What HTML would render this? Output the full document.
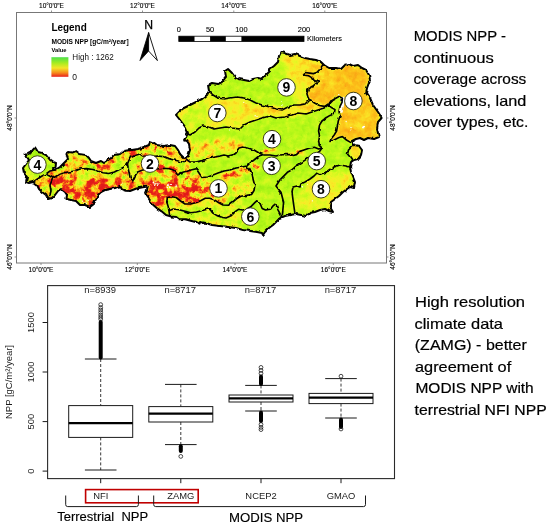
<!DOCTYPE html>
<html lang="en"><head><meta charset="utf-8"><title>MODIS NPP Austria</title>
<style>
.cal{font-size:13.2px;white-space:pre;stroke:#000;stroke-width:0.15px}
html,body{margin:0;padding:0;background:#fff}
body{width:550px;height:527px;overflow:hidden}
svg{display:block}
text{font-family:"Liberation Sans",sans-serif;fill:#000}
.big{font-size:15px;stroke:#000;stroke-width:0.2px}
.ax{font-size:9.4px;fill:#1a1a1a}
.deg{font-size:6.5px;fill:#000;stroke:#000;stroke-width:0.12px}
.num{font-size:14px;font-weight:bold;text-anchor:middle}
.bd{fill:none;stroke:#000;stroke-width:1.65;stroke-linejoin:round;stroke-linecap:round}
.bx{fill:#fff;stroke:#1a1a1a;stroke-width:1}
.ln{fill:none;stroke:#1a1a1a;stroke-width:1}
.ds{fill:none;stroke:#222;stroke-width:0.9;stroke-dasharray:3 2}
.md{stroke:#000;stroke-width:2.2}
.oc{fill:none;stroke:#111;stroke-width:0.75}
</style></head><body>
<svg width="550" height="527" viewBox="0 0 550 527">
<defs>
<clipPath id="at"><polygon points="35,147.4 38,152 42,153 46,155 50,160 53,162 56,163 55.6,167 53,169 55,170 60,167 65,162 68,159 66.4,154 69,152 72.4,152.6 76,151 80,154 86,155 89,158 91,161 96,163 101,161 104,163 107,161 111,158 114,155 120,154 124,151 130,150 132,150 138,149 144,147 149,145 150,141 153,142 157,145 163,146 170,145 175,146 178,150 180,154 184,158 188,156 190,150 189,144 187,141 184,140 186,137 188,133 186,128 183,124 180,120 176,115 180,111 184,108 190,105 196,102 202,99 207,95 209,91 208,85 212,83 218,84 222,82 226,77 225,71 228,69 232,73 235,77 239,79 244,80 249,81 253,79 258,78 262,79 266,75 270,71 270,69 274,66 278,62 279,56 281,52 285,53 290,55 295,54 300,56 305,58 310,59 316,60 321,62 324,65 329,68 336,68 341,69 345,65 349,64 353,66 358,65 362,68 366,70 369,75 370,80 368.5,84 367,88 366,93 368,96 370,98 371.5,101.5 373,105 375.5,108.5 378,112 380,115 381.6,118 378,122 377,129 378,133 379,137 374,139 368,138 364,140 360,138 356,139 352,141 354,145 359,146 362,150 361,155 358,159 354,160 351,162 350,167 351,172 353,177 355,182 354,188 350,187 347,189 343,192 339,196 335,199 331,202 330,207 333,212 329,211 325,209 320,210 315,212 310,213 306,216 301,215 296,214 290,215 285,216 280,218 277,221 273,225 269,228 265,232 263,235 262,233 257,232 250,231 243,230 236,228 228,227 220,226 212,225 206,223 200,222 199.5,223.6 196.5,222.2 190.7,220.7 185,219.3 179,219.3 176.2,217 170.4,216.4 166,215 161.6,211.3 157.3,208.4 153,204.7 150,200.4 147.8,197.4 145.3,193.5 146.5,191 147.8,186.5 142.7,187.2 136.4,188.5 130,191 125.8,190.7 122,189.5 120,186 115,188 110,189 105,190 101,192 98,195 96,199 94,204 90,207 85,205 80,205 76,201 71,200 66.4,199 67,195 65,192 61,189 58,191 55,195 52,198 48,199 46,195 42,192 39,189 37,185 33,182 29,183 26,182 27,177 24,173 23,168 26,164 29,160 27,157 25.6,154 28,153 32,151"/></clipPath>
<filter id="npp" filterUnits="userSpaceOnUse" x="15" y="40" width="380" height="200" color-interpolation-filters="sRGB">
<feGaussianBlur in="SourceGraphic" stdDeviation="1.5" result="b"/>
<feColorMatrix in="b" type="matrix" values="1 0 0 0 0 1 0 0 0 0 1 0 0 0 0 0 0 0 0 1" result="F"/>
<feColorMatrix in="b" type="matrix" values="0 1 0 0 0 0 1 0 0 0 0 1 0 0 0 0 0 0 0 1" result="M"/>
<feTurbulence type="fractalNoise" baseFrequency="0.4" numOctaves="2" seed="3" result="t1"/>
<feColorMatrix in="t1" type="matrix" values="1 0 0 0 0 1 0 0 0 0 1 0 0 0 0 0 0 0 0 1" result="N1"/>
<feTurbulence type="fractalNoise" baseFrequency="0.14" numOctaves="2" seed="11" result="t2"/>
<feColorMatrix in="t2" type="matrix" values="1 0 0 0 0 1 0 0 0 0 1 0 0 0 0 0 0 0 0 1" result="N2"/>
<feComposite in="N2" in2="N1" operator="arithmetic" k1="0" k2="1" k3="0.35" k4="-0.175" result="N"/>
<feComposite in="M" in2="N" operator="arithmetic" k1="1.7" k2="-0.85" k3="0" k4="0.5" result="A"/>
<feComposite in="F" in2="A" operator="arithmetic" k1="0" k2="1" k3="1" k4="-0.5" result="v"/>
<feComponentTransfer in="v"><feFuncR type="table" tableValues="0.627 0.650 0.672 0.695 0.717 0.741 0.764 0.788 0.815 0.848 0.881 0.913 0.941 0.968 0.982 0.986 0.989 0.992 0.988 0.984 0.979 0.972 0.965 0.957 0.947 0.938 0.928 0.920 0.914 0.907 0.900 0.893 0.886"/><feFuncG type="table" tableValues="0.941 0.949 0.958 0.966 0.973 0.975 0.977 0.979 0.979 0.974 0.969 0.963 0.948 0.932 0.901 0.856 0.811 0.767 0.726 0.685 0.638 0.557 0.476 0.395 0.327 0.260 0.193 0.167 0.154 0.141 0.128 0.115 0.102"/><feFuncB type="table" tableValues="0.078 0.083 0.087 0.091 0.095 0.101 0.107 0.113 0.120 0.127 0.135 0.142 0.148 0.154 0.148 0.133 0.117 0.102 0.096 0.091 0.086 0.086 0.086 0.086 0.090 0.093 0.097 0.099 0.099 0.100 0.101 0.101 0.102"/></feComponentTransfer>
</filter>
<filter id="wig" filterUnits="userSpaceOnUse" x="15" y="40" width="380" height="200" color-interpolation-filters="sRGB"><feTurbulence type="fractalNoise" baseFrequency="0.18" numOctaves="2" seed="4" result="w"/><feDisplacementMap in="SourceGraphic" in2="w" scale="3" xChannelSelector="R" yChannelSelector="G"/></filter>
<filter id="soft" x="-50%" y="-50%" width="200%" height="200%" color-interpolation-filters="sRGB"><feGaussianBlur stdDeviation="3.5"/></filter>
<linearGradient id="lg" x1="0" y1="0" x2="0" y2="1">
<stop offset="0" stop-color="#4be04b"/><stop offset="0.3" stop-color="#a8ec20"/><stop offset="0.55" stop-color="#f4e628"/><stop offset="0.8" stop-color="#f68a1c"/><stop offset="1" stop-color="#e8201c"/>
</linearGradient>
</defs>
<rect width="550" height="527" fill="#fff"/>

<!-- map frame -->
<rect x="16.5" y="12.5" width="370" height="250.5" fill="#fff" stroke="#777" stroke-width="1"/>
<g filter="url(#wig)"><g clip-path="url(#at)"><g filter="url(#npp)">
<rect x="10" y="35" width="390" height="210" fill="rgb(36,64,0)"/>
<polygon points="324,65 329,68 336,68 341,69 345,65 349,64 353,66 358,65 362,68 366,70 369,75 370,80 368.5,84 367,88 366,93 368,96 370,98 371.5,101.5 373,105 375.5,108.5 378,112 380,115 381.6,118 378,122 377,129 378,133 379,137 374,139 368,138 364,140 360,138 356,139 352,141 350.5,142.4 346.5,140 342.4,136.6 339,137.5 334.2,140 330,141.5 331,139 334.2,135 336.6,131 337.5,126 338.3,121 340,116.2 339,111.3 340,106.4 342,102.3 342.4,98.2 339,96.5 335.8,98.2 331.7,100.6 328.5,103.9 324.4,106.4 319.5,105.5 314.5,103 310.5,99.8 308,100 309.6,100.3 308,97.1 306.9,93.8 308,90 310.7,87.3 313.4,85.6 316.2,83.4 318.4,81.8 317.8,80.2 315.1,81.3 312.9,80.2 311.3,77.4 308.5,75.8 304.7,75.3 303.6,73.6 305.3,72.5 309.6,73.1 313.4,73.6 316.7,72.5 318.9,70.4 321,67.6 322.7,64.9 324,65" fill="rgb(139,36,0)"/>
<g filter="url(#soft)"><ellipse cx="360" cy="118" rx="12" ry="16" fill="rgb(125,36,0)" transform="rotate(-15 360 118)"/></g>
<g filter="url(#soft)"><ellipse cx="335" cy="85" rx="8" ry="6" fill="rgb(128,36,0)"/></g>
<ellipse cx="356" cy="152" rx="6" ry="7" fill="rgb(120,31,0)"/>
<polygon points="209,91 213,95 218,98 224,99 230,98 237,97 244,98 250,100 256,103 262,105 270,107 276,109 282,110 288,107 294,105 300,105 305,104 308,101 308,101 310.5,99.8 314.5,103 319.5,105.5 324.4,106.4 327.6,104.7 330,101 328,105 324,108 318,110 312,112 306,114 298,113 292,115 284,117 276,118 270,116 262,118 256,120 250,122 244,125 240,129 232,128 226,127 220,128 214,129 209,127 203,126 199,128 195,132 190,135 188,134 185,128 182,123 178,119 176,115 180,111 184,108 190,105 196,102 202,99 207,95" fill="rgb(94,56,0)"/>
<ellipse cx="270" cy="110" rx="34" ry="5" fill="rgb(107,64,0)" transform="rotate(8 270 110)"/>
<ellipse cx="310" cy="106" rx="14" ry="4" fill="rgb(128,64,0)"/>
<ellipse cx="250" cy="112" rx="26" ry="8" fill="rgb(107,64,0)" transform="rotate(-5 250 112)"/>
<ellipse cx="195" cy="118" rx="14" ry="10" fill="rgb(61,76,0)" transform="rotate(-30 195 118)"/>
<g filter="url(#soft)"><ellipse cx="201" cy="112" rx="13" ry="9" fill="rgb(69,64,0)" transform="rotate(-20 201 112)"/></g>
<g filter="url(#soft)"><ellipse cx="306" cy="72" rx="20" ry="17" fill="rgb(115,51,0)"/></g>
<g filter="url(#soft)"><ellipse cx="314" cy="68" rx="10" ry="10" fill="rgb(120,51,0)"/></g>
<g filter="url(#soft)"><ellipse cx="292" cy="59" rx="16" ry="7" fill="rgb(115,51,0)" transform="rotate(10 292 59)"/></g>
<g filter="url(#soft)"><ellipse cx="301" cy="95" rx="7" ry="9" fill="rgb(117,64,0)"/></g>
<g filter="url(#soft)"><ellipse cx="328" cy="193" rx="26" ry="20" fill="rgb(97,64,0)"/></g>
<g filter="url(#soft)"><ellipse cx="300" cy="205" rx="14" ry="12" fill="rgb(76,64,0)"/></g>
<g filter="url(#soft)"><ellipse cx="347" cy="185" rx="10" ry="14" fill="rgb(97,64,0)"/></g>
<polygon points="20,140 190,140 190,170 228,186 226,200 205,212 185,214 20,214" fill="rgb(128,255,0)"/>
<ellipse cx="100" cy="190" rx="26" ry="11" fill="rgb(204,255,0)" transform="rotate(5 100 190)"/>
<ellipse cx="172" cy="192" rx="34" ry="9" fill="rgb(204,255,0)" transform="rotate(8 172 192)"/>
<ellipse cx="66" cy="186" rx="18" ry="8" fill="rgb(184,255,0)" transform="rotate(25 66 186)"/>
<ellipse cx="203" cy="197" rx="16" ry="6" fill="rgb(168,255,0)" transform="rotate(15 203 197)"/>
<ellipse cx="48" cy="180" rx="10" ry="7" fill="rgb(148,255,0)" transform="rotate(30 48 180)"/>
<ellipse cx="85" cy="163" rx="30" ry="6" fill="rgb(112,255,0)" transform="rotate(-10 85 163)"/>
<ellipse cx="135" cy="156" rx="28" ry="5" fill="rgb(102,255,0)" transform="rotate(-4 135 156)"/>
<ellipse cx="170" cy="160" rx="20" ry="5" fill="rgb(92,64,0)" transform="rotate(10 170 160)"/>
<ellipse cx="122" cy="165.5" rx="19" ry="3.2" fill="rgb(51,102,0)" transform="rotate(-25 122 165.5)"/>
<ellipse cx="133" cy="171" rx="4.5" ry="9" fill="rgb(51,102,0)"/>
<ellipse cx="163" cy="162.5" rx="24" ry="3" fill="rgb(61,128,0)" transform="rotate(4 163 162.5)"/>
<ellipse cx="90" cy="172" rx="14" ry="2" fill="rgb(76,128,0)" transform="rotate(8 90 172)"/>
<ellipse cx="82" cy="181" rx="10" ry="4.5" fill="rgb(66,128,0)" transform="rotate(-35 82 181)"/>
<ellipse cx="79" cy="155.5" rx="10" ry="3.5" fill="rgb(87,128,0)" transform="rotate(5 79 155.5)"/>
<ellipse cx="58" cy="166" rx="4" ry="3" fill="rgb(76,102,0)"/>
<ellipse cx="112" cy="180" rx="3" ry="8" fill="rgb(71,128,0)" transform="rotate(20 112 180)"/>
<polygon points="20,140 40,140 50,158 58,164 55,170 50,171 44,175 38,179 33,182 20,190" fill="rgb(51,115,0)"/>
<ellipse cx="36" cy="158" rx="12" ry="11" fill="rgb(26,76,0)"/>
<ellipse cx="32" cy="177" rx="6" ry="4" fill="rgb(87,128,0)"/>
<ellipse cx="232" cy="145" rx="10" ry="3" fill="rgb(158,255,0)" transform="rotate(-10 232 145)"/>
<ellipse cx="205" cy="155" rx="14" ry="3" fill="rgb(148,255,0)" transform="rotate(5 205 155)"/>
<ellipse cx="240" cy="172" rx="22" ry="4" fill="rgb(140,255,0)" transform="rotate(-18 240 172)"/>
<ellipse cx="296" cy="153" rx="8" ry="2.5" fill="rgb(128,255,0)" transform="rotate(-20 296 153)"/>
<ellipse cx="268" cy="150" rx="10" ry="2.5" fill="rgb(115,255,0)" transform="rotate(-10 268 150)"/>
<ellipse cx="215" cy="147" rx="30" ry="8" fill="rgb(102,153,0)" transform="rotate(-5 215 147)"/>
<ellipse cx="232" cy="188" rx="22" ry="11" fill="rgb(87,153,0)"/>
<polygon points="167.5,197.5 171.8,196.7 176.2,197.5 180.5,201 185,204 190.7,204 196.5,202.5 201,200.4 205.3,198.2 209.6,198.2 214,199.6 218.4,202.5 223,205 228.6,205.2 232.7,202 240,200 250,215 240,232 200,226 176,220 160,212" fill="rgb(76,115,0)"/>
<ellipse cx="178" cy="204" rx="10" ry="3" fill="rgb(107,153,0)" transform="rotate(20 178 204)"/>
<ellipse cx="205" cy="216" rx="30" ry="3" fill="rgb(51,102,0)" transform="rotate(6 205 216)"/>
</g></g>
<polygon points="341,97.5 344.6,96.5 344.2,104 342.6,111.5 340.4,112 340.8,104" fill="#fff"/><ellipse cx="153.4" cy="182.5" rx="0.81" ry="0.88" fill="#fff"/><ellipse cx="155.7" cy="181.1" rx="0.43" ry="0.65" fill="#fff"/><ellipse cx="159.0" cy="183.3" rx="0.86" ry="0.48" fill="#fff"/><ellipse cx="154.4" cy="184.2" rx="0.69" ry="0.7" fill="#fff"/><ellipse cx="157.5" cy="184.1" rx="0.56" ry="0.87" fill="#fff"/><ellipse cx="156.1" cy="183.2" rx="0.81" ry="0.49" fill="#fff"/><ellipse cx="155.2" cy="183.5" rx="0.42" ry="0.85" fill="#fff"/><ellipse cx="168.9" cy="185.3" rx="0.9" ry="0.85" fill="#fff"/><ellipse cx="167.3" cy="187.5" rx="0.68" ry="0.75" fill="#fff"/><ellipse cx="169.8" cy="187.2" rx="0.76" ry="0.89" fill="#fff"/><ellipse cx="169.8" cy="183.9" rx="0.6" ry="0.5" fill="#fff"/><ellipse cx="168.9" cy="184.8" rx="0.57" ry="0.72" fill="#fff"/><ellipse cx="171.5" cy="184.5" rx="0.59" ry="0.57" fill="#fff"/><ellipse cx="176.7" cy="186.0" rx="0.57" ry="0.66" fill="#fff"/><ellipse cx="175.9" cy="186.7" rx="0.9" ry="0.43" fill="#fff"/><ellipse cx="176.0" cy="185.1" rx="0.43" ry="0.81" fill="#fff"/><ellipse cx="83.7" cy="202.3" rx="0.42" ry="0.44" fill="#fff"/><ellipse cx="86.6" cy="203.3" rx="0.52" ry="0.79" fill="#fff"/><ellipse cx="88.2" cy="200.7" rx="0.59" ry="0.59" fill="#fff"/><ellipse cx="82.4" cy="201.3" rx="0.47" ry="0.79" fill="#fff"/><ellipse cx="122.6" cy="182.9" rx="0.31" ry="0.63" fill="#fff"/><ellipse cx="122.8" cy="184.3" rx="0.51" ry="0.62" fill="#fff"/><ellipse cx="281.8" cy="105.5" rx="0.69" ry="0.57" fill="#fff"/><ellipse cx="282.7" cy="104.5" rx="0.46" ry="0.49" fill="#fff"/><ellipse cx="281.7" cy="101.5" rx="0.5" ry="0.44" fill="#fff"/><ellipse cx="246.0" cy="102.9" rx="0.53" ry="0.46" fill="#fff"/><ellipse cx="243.8" cy="102.4" rx="0.55" ry="0.54" fill="#fff"/><ellipse cx="256.7" cy="116.5" rx="0.37" ry="0.57" fill="#fff"/><ellipse cx="255.2" cy="115.7" rx="0.67" ry="0.76" fill="#fff"/><ellipse cx="222.4" cy="126.1" rx="0.34" ry="0.45" fill="#fff"/><ellipse cx="229.4" cy="130.3" rx="0.4" ry="0.46" fill="#fff"/><ellipse cx="231.9" cy="128.0" rx="0.64" ry="0.46" fill="#fff"/><ellipse cx="363.4" cy="127.2" rx="0.65" ry="0.56" fill="#fff"/><ellipse cx="363.8" cy="127.5" rx="0.6" ry="0.9" fill="#fff"/><ellipse cx="364.5" cy="126.4" rx="0.66" ry="0.59" fill="#fff"/><ellipse cx="346.2" cy="121.4" rx="0.57" ry="0.6" fill="#fff"/><ellipse cx="345.7" cy="122.3" rx="0.57" ry="0.54" fill="#fff"/><ellipse cx="350.7" cy="127.6" rx="0.43" ry="0.55" fill="#fff"/><ellipse cx="350.9" cy="130.1" rx="0.57" ry="0.54" fill="#fff"/><ellipse cx="338.8" cy="94.7" rx="0.74" ry="0.7" fill="#fff"/><ellipse cx="307.5" cy="185.1" rx="0.54" ry="0.75" fill="#fff"/><ellipse cx="301.4" cy="185.6" rx="0.74" ry="0.81" fill="#fff"/><ellipse cx="303.3" cy="186.8" rx="0.78" ry="0.83" fill="#fff"/><ellipse cx="312.4" cy="200.8" rx="0.73" ry="0.65" fill="#fff"/><ellipse cx="322.5" cy="107.8" rx="0.58" ry="0.58" fill="#fff"/><ellipse cx="321.0" cy="108.8" rx="0.75" ry="0.56" fill="#fff"/>
<polygon class="bd" style="stroke-width:2" points="35,147.4 38,152 42,153 46,155 50,160 53,162 56,163 55.6,167 53,169 55,170 60,167 65,162 68,159 66.4,154 69,152 72.4,152.6 76,151 80,154 86,155 89,158 91,161 96,163 101,161 104,163 107,161 111,158 114,155 120,154 124,151 130,150 132,150 138,149 144,147 149,145 150,141 153,142 157,145 163,146 170,145 175,146 178,150 180,154 184,158 188,156 190,150 189,144 187,141 184,140 186,137 188,133 186,128 183,124 180,120 176,115 180,111 184,108 190,105 196,102 202,99 207,95 209,91 208,85 212,83 218,84 222,82 226,77 225,71 228,69 232,73 235,77 239,79 244,80 249,81 253,79 258,78 262,79 266,75 270,71 270,69 274,66 278,62 279,56 281,52 285,53 290,55 295,54 300,56 305,58 310,59 316,60 321,62 324,65 329,68 336,68 341,69 345,65 349,64 353,66 358,65 362,68 366,70 369,75 370,80 368.5,84 367,88 366,93 368,96 370,98 371.5,101.5 373,105 375.5,108.5 378,112 380,115 381.6,118 378,122 377,129 378,133 379,137 374,139 368,138 364,140 360,138 356,139 352,141 354,145 359,146 362,150 361,155 358,159 354,160 351,162 350,167 351,172 353,177 355,182 354,188 350,187 347,189 343,192 339,196 335,199 331,202 330,207 333,212 329,211 325,209 320,210 315,212 310,213 306,216 301,215 296,214 290,215 285,216 280,218 277,221 273,225 269,228 265,232 263,235 262,233 257,232 250,231 243,230 236,228 228,227 220,226 212,225 206,223 200,222 199.5,223.6 196.5,222.2 190.7,220.7 185,219.3 179,219.3 176.2,217 170.4,216.4 166,215 161.6,211.3 157.3,208.4 153,204.7 150,200.4 147.8,197.4 145.3,193.5 146.5,191 147.8,186.5 142.7,187.2 136.4,188.5 130,191 125.8,190.7 122,189.5 120,186 115,188 110,189 105,190 101,192 98,195 96,199 94,204 90,207 85,205 80,205 76,201 71,200 66.4,199 67,195 65,192 61,189 58,191 55,195 52,198 48,199 46,195 42,192 39,189 37,185 33,182 29,183 26,182 27,177 24,173 23,168 26,164 29,160 27,157 25.6,154 28,153 32,151"/>
<polyline class="bd" points="55,170 50,171 46,174 42,176 39,178 36,180 33,182"/>
<polyline class="bd" points="53,178 50,185 51,191 50,195 48,199"/>
<polyline class="bd" points="46,174 53,178 60,174 68,172 75,171 80,169 86.5,168.6 93,169.5 98,171 103,172.7 108.6,173.5 114.4,172 119.3,169.5 124.2,167 127.5,163.7 130,158 135,155.4 140,154 142.7,156 150,156.5 158,156 163,156.6 168,158.5 173,159.8 178.4,161 183.5,162.4 186,159.5"/>
<polyline class="bd" points="209,91 213,95 218,98 224,99 230,98 237,97 244,98 250,100 256,103 262,105 270,107 276,109 282,110 288,107 294,105 300,105 305,104 308,101"/>
<polyline class="bd" points="188,134 190,135 195,132 199,128 203,126 209,127 214,129 220,128 226,127 232,128 240,129 244,125 250,122 256,120 262,118 270,116 276,118 284,117 292,115 298,113 306,114 312,112 318,110 324,108 328,105 330,101"/>
<polyline class="bd" points="186,159 190,162 196,162 202,160.6 208,159 214,157 220,156 224,155 228,156 232,155 236,152 239,148 243,147 248,148 254,150 259,153 264,155 270,155 276,156 280,155 285,154.5 290,154.6 293.3,155.5 296.5,154.6 299.8,151.4 304.7,149.7 309.6,148 314.5,147.3 318.6,149 322,148"/>
<polyline class="bd" points="324,65 322.7,64.9 321,67.6 318.9,70.4 316.7,72.5 313.4,73.6 309.6,73.1 305.3,72.5 303.6,73.6 304.7,75.3 308.5,75.8 311.3,77.4 312.9,80.2 315.1,81.3 317.8,80.2 318.4,81.8 316.2,83.4 313.4,85.6 310.7,87.3 308,90 306.9,93.8 308,97.1 309.6,100.3"/>
<polyline class="bd" points="308,100 310.5,99.8 314.5,103 319.5,105.5 324.4,106.4 328.5,103.9 331.7,100.6 335.8,98.2 339,96.5 342.4,98.2 342,102.3 340,106.4 339,111.3 340,116.2 338.3,121 337.5,126 336.6,131 334.2,135 331,139 330,141.5 334.2,140 339,137.5 342.4,136.6 346.5,140 350.5,142.4"/>
<polyline class="bd" points="327.6,104.7 331,107.2 335,109.6 334.2,113.7 330,115.4 326,117.8 322,121 319.5,125.2 318.6,131 319.5,135.8 318.6,140.7 319.5,145.6 322,148"/>
<polyline class="bd" points="350,167 346,166 340,165 334,167 329,170 325,173 321,175 317,173 314,176 310,179 305,182 301,184 300,187 297,186 293,187 292,192 293,200 294,207 295,214"/>
<polyline class="bd" points="247,166 250,170 252.4,175 253.2,179.8 254.8,185.5 254,190.5 251.5,194.5 246.6,195.4 241,196.2 236.8,198.6 232.7,202 228.6,205.2 223,205 218.4,202.5 214,199.6 209.6,198.2 205.3,198.2 201,200.4 196.5,202.5 190.7,204 185,204 180.5,201 176.2,197.5 171.8,196.7 167.5,197.5 166.7,202 168.2,206.5 169,211 169.6,215.5"/>
<polyline class="bd" points="127.5,164 128.5,170 130,177 132.4,181.7 135,176 137.6,172 142.7,170 148,169.4 159.3,168.7 164.4,168.3 169.5,168.7 173.3,170 175.8,172.5 177.7,175 180.3,173.2 183.5,172 187.3,171.3 191,170 196.2,168.7 199,173 202,177.5 208,177 213,175 218,173 224,171 230,170 236,168 242,167 247,166 250,163 254,160 259,156 262,155"/>
<polyline class="bd" points="169.6,210.5 173.3,209 179,209.8 185,211.3 190.7,212.7 196.5,212 202.4,210.5 208.2,209 210.4,209.8 212.5,212.7 217,215.6 222.7,217.5 226,218 231,215.8 235.2,211.7 238.5,209.3 242.5,210 246.6,209.3 250.7,206.8 254.8,202.7 257.3,200.3 259.7,202.7 262.2,208.5 265.5,210 270.4,209.3 273.6,205.2 276,204.4 277.7,209.3 280.2,214.2 281.8,217.5"/>
<polyline class="bd" points="322,148 319.5,151.4 314.5,154.6 309.6,157 304.7,160.4 299.8,163.6 295,167 291.6,170 287.4,172.3 280,179.8 276,186 281,192.2 283.6,202.2 282.4,214.6"/>
<polyline class="bd" points="353,145.6 348.5,150 347.5,154 350,157 352.2,160.4"/>
</g>
<circle cx="37.4" cy="164.6" r="8.8" fill="#fff" stroke="#2a2a10" stroke-width="0.9"/><text class="num" x="37.4" y="169.6">4</text>
<circle cx="150" cy="163.6" r="8.8" fill="#fff" stroke="#2a2a10" stroke-width="0.9"/><text class="num" x="150" y="168.6">2</text>
<circle cx="217.3" cy="113" r="8.8" fill="#fff" stroke="#2a2a10" stroke-width="0.9"/><text class="num" x="217.3" y="118">7</text>
<circle cx="286.5" cy="87.4" r="8.8" fill="#fff" stroke="#2a2a10" stroke-width="0.9"/><text class="num" x="286.5" y="92.4">9</text>
<circle cx="272" cy="139.2" r="8.8" fill="#fff" stroke="#2a2a10" stroke-width="0.9"/><text class="num" x="272" y="144.2">4</text>
<circle cx="271.6" cy="165.8" r="8.8" fill="#fff" stroke="#2a2a10" stroke-width="0.9"/><text class="num" x="271.6" y="170.8">3</text>
<circle cx="218.5" cy="188.4" r="8.8" fill="#fff" stroke="#2a2a10" stroke-width="0.9"/><text class="num" x="218.5" y="193.4">1</text>
<circle cx="250.3" cy="216.6" r="8.8" fill="#fff" stroke="#2a2a10" stroke-width="0.9"/><text class="num" x="250.3" y="221.6">6</text>
<circle cx="316.7" cy="161.1" r="8.8" fill="#fff" stroke="#2a2a10" stroke-width="0.9"/><text class="num" x="316.7" y="166.1">5</text>
<circle cx="321" cy="189.2" r="8.8" fill="#fff" stroke="#2a2a10" stroke-width="0.9"/><text class="num" x="321" y="194.2">8</text>
<circle cx="353.4" cy="101" r="8.8" fill="#fff" stroke="#2a2a10" stroke-width="0.9"/><text class="num" x="353.4" y="106">8</text>
<line x1="51.5" y1="10.5" x2="51.5" y2="12.5" stroke="#777" stroke-width="0.8"/><text class="deg" x="51.5" y="8.3" text-anchor="middle">10°0'0"E</text>
<line x1="142.5" y1="10.5" x2="142.5" y2="12.5" stroke="#777" stroke-width="0.8"/><text class="deg" x="142.5" y="8.3" text-anchor="middle">12°0'0"E</text>
<line x1="233.8" y1="10.5" x2="233.8" y2="12.5" stroke="#777" stroke-width="0.8"/><text class="deg" x="233.8" y="8.3" text-anchor="middle">14°0'0"E</text>
<line x1="324.8" y1="10.5" x2="324.8" y2="12.5" stroke="#777" stroke-width="0.8"/><text class="deg" x="324.8" y="8.3" text-anchor="middle">16°0'0"E</text>
<line x1="41" y1="263" x2="41" y2="265" stroke="#777" stroke-width="0.8"/><text class="deg" x="41" y="271.8" text-anchor="middle">10°0'0"E</text>
<line x1="137.3" y1="263" x2="137.3" y2="265" stroke="#777" stroke-width="0.8"/><text class="deg" x="137.3" y="271.8" text-anchor="middle">12°0'0"E</text>
<line x1="235" y1="263" x2="235" y2="265" stroke="#777" stroke-width="0.8"/><text class="deg" x="235" y="271.8" text-anchor="middle">14°0'0"E</text>
<line x1="333.3" y1="263" x2="333.3" y2="265" stroke="#777" stroke-width="0.8"/><text class="deg" x="333.3" y="271.8" text-anchor="middle">16°0'0"E</text>
<line x1="14.5" y1="118" x2="16.5" y2="118" stroke="#777" stroke-width="0.8"/><text class="deg" transform="translate(12.4 118) rotate(-90)" text-anchor="middle">48°0'0"N</text>
<line x1="386.5" y1="118" x2="388.5" y2="118" stroke="#777" stroke-width="0.8"/><text class="deg" transform="translate(394.8 118) rotate(-90)" text-anchor="middle">48°0'0"N</text>
<line x1="14.5" y1="257" x2="16.5" y2="257" stroke="#777" stroke-width="0.8"/><text class="deg" transform="translate(12.4 257) rotate(-90)" text-anchor="middle">46°0'0"N</text>
<line x1="386.5" y1="257" x2="388.5" y2="257" stroke="#777" stroke-width="0.8"/><text class="deg" transform="translate(394.8 257) rotate(-90)" text-anchor="middle">46°0'0"N</text>
<text x="51.4" y="30.5" style="font-size:10px;font-weight:bold" textLength="35.4" lengthAdjust="spacingAndGlyphs">Legend</text>
<text x="51.4" y="43.7" style="font-size:6.5px;font-weight:bold" textLength="77.2" lengthAdjust="spacingAndGlyphs">MODIS NPP [gC/m²/year]</text>
<text x="51.4" y="52.3" style="font-size:5.7px;font-weight:bold" textLength="15.1" lengthAdjust="spacingAndGlyphs">Value</text>
<rect x="51.4" y="57.2" width="17" height="19.6" fill="url(#lg)"/>
<text x="72.3" y="59.9" style="font-size:8.5px;fill:#111" textLength="41.4" lengthAdjust="spacingAndGlyphs">High : 1262</text>
<text x="72.3" y="79.5" style="font-size:8.5px;fill:#111">0</text>
<text x="148.7" y="28.7" text-anchor="middle" style="font-size:12.2px;stroke:#000;stroke-width:0.25">N</text>
<polygon points="148.6,32.6 140,60.6 148.6,51" fill="#000" stroke="#000" stroke-width="0.8" stroke-linejoin="miter"/>
<polygon points="148.6,32.6 157.4,60.6 148.6,51" fill="#fff" stroke="#000" stroke-width="0.9" stroke-linejoin="miter"/>
<rect x="178.8" y="36.2" width="125.2" height="5.2" fill="#fff" stroke="#000" stroke-width="0.8"/>
<rect x="178.8" y="36.2" width="15.7" height="5.2" fill="#000"/><rect x="210.1" y="36.2" width="15.7" height="5.2" fill="#000"/><rect x="241.4" y="36.2" width="62.6" height="5.2" fill="#000"/>
<text x="178.8" y="31.6" text-anchor="middle" style="font-size:7.4px;stroke:#000;stroke-width:0.1px">0</text><text x="210.1" y="31.6" text-anchor="middle" style="font-size:7.4px;stroke:#000;stroke-width:0.1px">50</text><text x="241.4" y="31.6" text-anchor="middle" style="font-size:7.4px;stroke:#000;stroke-width:0.1px">100</text><text x="304" y="31.6" text-anchor="middle" style="font-size:7.4px;stroke:#000;stroke-width:0.1px">200</text>
<text x="307" y="41.4" style="font-size:7.4px;stroke:#000;stroke-width:0.1px">Kilometers</text>
<text class="big" x="413.7" y="41.1" textLength="92.3" lengthAdjust="spacingAndGlyphs">MODIS NPP -</text>
<text class="big" x="413.4" y="62.7" textLength="80.4" lengthAdjust="spacingAndGlyphs">continuous</text>
<text class="big" x="413.4" y="84.2" textLength="112.9" lengthAdjust="spacingAndGlyphs">coverage across</text>
<text class="big" x="413.4" y="105.7" textLength="112.9" lengthAdjust="spacingAndGlyphs">elevations, land</text>
<text class="big" x="413.4" y="127.2" textLength="115.0" lengthAdjust="spacingAndGlyphs">cover types, etc.</text>
<text class="big" x="415" y="307.4" textLength="110.0" lengthAdjust="spacingAndGlyphs">High resolution</text>
<text class="big" x="414.5" y="328.9" textLength="88.5" lengthAdjust="spacingAndGlyphs">climate data</text>
<text class="big" x="414.8" y="350.4" textLength="112.0" lengthAdjust="spacingAndGlyphs">(ZAMG) - better</text>
<text class="big" x="415" y="371.9" textLength="96.2" lengthAdjust="spacingAndGlyphs">agreement of</text>
<text class="big" x="415.5" y="393.4" textLength="118.2" lengthAdjust="spacingAndGlyphs">MODIS NPP with</text>
<text class="big" x="414.5" y="414.9" textLength="132.3" lengthAdjust="spacingAndGlyphs">terrestrial NFI NPP</text>
<rect x="47.6" y="285.6" width="346.9" height="193" fill="none" stroke="#2a2a2a" stroke-width="1.1"/>
<line class="ln" x1="42.6" y1="471.1" x2="47.6" y2="471.1"/><text class="ax" transform="translate(34.1 471.1) rotate(-90)" text-anchor="middle">0</text>
<line class="ln" x1="42.6" y1="421.6" x2="47.6" y2="421.6"/><text class="ax" transform="translate(34.1 421.6) rotate(-90)" text-anchor="middle">500</text>
<line class="ln" x1="42.6" y1="372.0" x2="47.6" y2="372.0"/><text class="ax" transform="translate(34.1 372.0) rotate(-90)" text-anchor="middle">1000</text>
<line class="ln" x1="42.6" y1="322.5" x2="47.6" y2="322.5"/><text class="ax" transform="translate(34.1 322.5) rotate(-90)" text-anchor="middle">1500</text>
<text class="ax" transform="translate(12.3 382) rotate(-90)" text-anchor="middle" textLength="74" lengthAdjust="spacingAndGlyphs">NPP [gC/m²/year]</text>
<text class="ax" x="100.10000000000001" y="293.3" text-anchor="middle" >n=8939</text>
<line class="ds" x1="100.7" y1="359" x2="100.7" y2="405.6"/><line class="ds" x1="100.7" y1="437.4" x2="100.7" y2="470"/><line class="ln" x1="84.9" y1="359" x2="116.5" y2="359"/><line class="ln" x1="84.9" y1="470" x2="116.5" y2="470"/><rect class="bx" x="68.7" y="405.6" width="64" height="31.8"/><line class="md" x1="68.7" y1="423.2" x2="132.7" y2="423.2"/><line class="ln" x1="100.7" y1="478.6" x2="100.7" y2="483.2"/><text class="ax" x="100.7" y="499.4" text-anchor="middle">NFI</text>
<text class="ax" x="180.20000000000002" y="293.3" text-anchor="middle" >n=8717</text>
<line class="ds" x1="180.8" y1="384.4" x2="180.8" y2="406.6"/><line class="ds" x1="180.8" y1="422" x2="180.8" y2="444.6"/><line class="ln" x1="165.0" y1="384.4" x2="196.60000000000002" y2="384.4"/><line class="ln" x1="165.0" y1="444.6" x2="196.60000000000002" y2="444.6"/><rect class="bx" x="148.8" y="406.6" width="64" height="15.4"/><line class="md" x1="148.8" y1="413.6" x2="212.8" y2="413.6"/><line class="ln" x1="180.8" y1="478.6" x2="180.8" y2="483.2"/><text class="ax" x="180.8" y="499.4" text-anchor="middle">ZAMG</text>
<text class="ax" x="260.4" y="293.3" text-anchor="middle" >n=8717</text>
<line class="ds" x1="261" y1="385.4" x2="261" y2="395"/><line class="ds" x1="261" y1="402" x2="261" y2="411"/><line class="ln" x1="245.2" y1="385.4" x2="276.8" y2="385.4"/><line class="ln" x1="245.2" y1="411" x2="276.8" y2="411"/><rect class="bx" x="229" y="395" width="64" height="7.0"/><line class="md" x1="229" y1="398.4" x2="293" y2="398.4"/><line class="ln" x1="261" y1="478.6" x2="261" y2="483.2"/><text class="ax" x="261" y="499.4" text-anchor="middle">NCEP2</text>
<text class="ax" x="340.4" y="293.3" text-anchor="middle" >n=8717</text>
<line class="ds" x1="341" y1="378.6" x2="341" y2="393.4"/><line class="ds" x1="341" y1="403.6" x2="341" y2="418"/><line class="ln" x1="325.2" y1="378.6" x2="356.8" y2="378.6"/><line class="ln" x1="325.2" y1="418" x2="356.8" y2="418"/><rect class="bx" x="309" y="393.4" width="64" height="10.2"/><line class="md" x1="309" y1="397.6" x2="373" y2="397.6"/><line class="ln" x1="341" y1="478.6" x2="341" y2="483.2"/><text class="ax" x="341" y="499.4" text-anchor="middle">GMAO</text>
<line x1="100.7" y1="322" x2="100.7" y2="357.5" stroke="#000" stroke-width="4" stroke-linecap="round"/><circle class="oc" cx="100.7" cy="304.6" r="1.9"/><circle class="oc" cx="100.7" cy="307.6" r="1.9"/><circle class="oc" cx="100.7" cy="310.0" r="1.9"/><circle class="oc" cx="100.7" cy="312.5" r="1.9"/><circle class="oc" cx="100.7" cy="315.0" r="1.9"/><circle class="oc" cx="100.7" cy="317.2" r="1.9"/><circle class="oc" cx="100.7" cy="319.2" r="1.9"/>
<line x1="180.8" y1="446.3" x2="180.8" y2="451" stroke="#000" stroke-width="4" stroke-linecap="round"/><circle class="oc" cx="180.8" cy="456.4" r="1.9"/>
<line x1="261" y1="376.5" x2="261" y2="384" stroke="#000" stroke-width="4" stroke-linecap="round"/><circle class="oc" cx="261" cy="367.4" r="1.9"/><circle class="oc" cx="261" cy="370.4" r="1.9"/><circle class="oc" cx="261" cy="373.4" r="1.9"/><line x1="261" y1="412.6" x2="261" y2="421" stroke="#000" stroke-width="4" stroke-linecap="round"/><circle class="oc" cx="261" cy="424.5" r="1.9"/><circle class="oc" cx="261" cy="427.4" r="1.9"/><circle class="oc" cx="261" cy="429.6" r="1.9"/>
<circle class="oc" cx="341" cy="376.2" r="1.9"/><line x1="341" y1="419.6" x2="341" y2="427" stroke="#000" stroke-width="4" stroke-linecap="round"/><circle class="oc" cx="341" cy="429.0" r="1.9"/>
<rect x="85.6" y="489.6" width="112.6" height="13.2" fill="none" stroke="#c00000" stroke-width="1.6"/>
<path class="ln" d="M65.7 495.5V504.6Q65.7 506.6 67.7 506.6H136.4Q138.4 506.6 138.4 504.6V495.5"/>
<path class="ln" d="M153.7 495.5V504.6Q153.7 506.6 155.7 506.6H363.5Q365.5 506.6 365.5 504.6V495.5"/>
<text class="cal" x="57.2" y="521.4" textLength="91.0" lengthAdjust="spacingAndGlyphs">Terrestrial  NPP</text>
<text class="cal" x="229" y="521.6" textLength="74.0" lengthAdjust="spacingAndGlyphs">MODIS NPP</text>
</svg></body></html>
